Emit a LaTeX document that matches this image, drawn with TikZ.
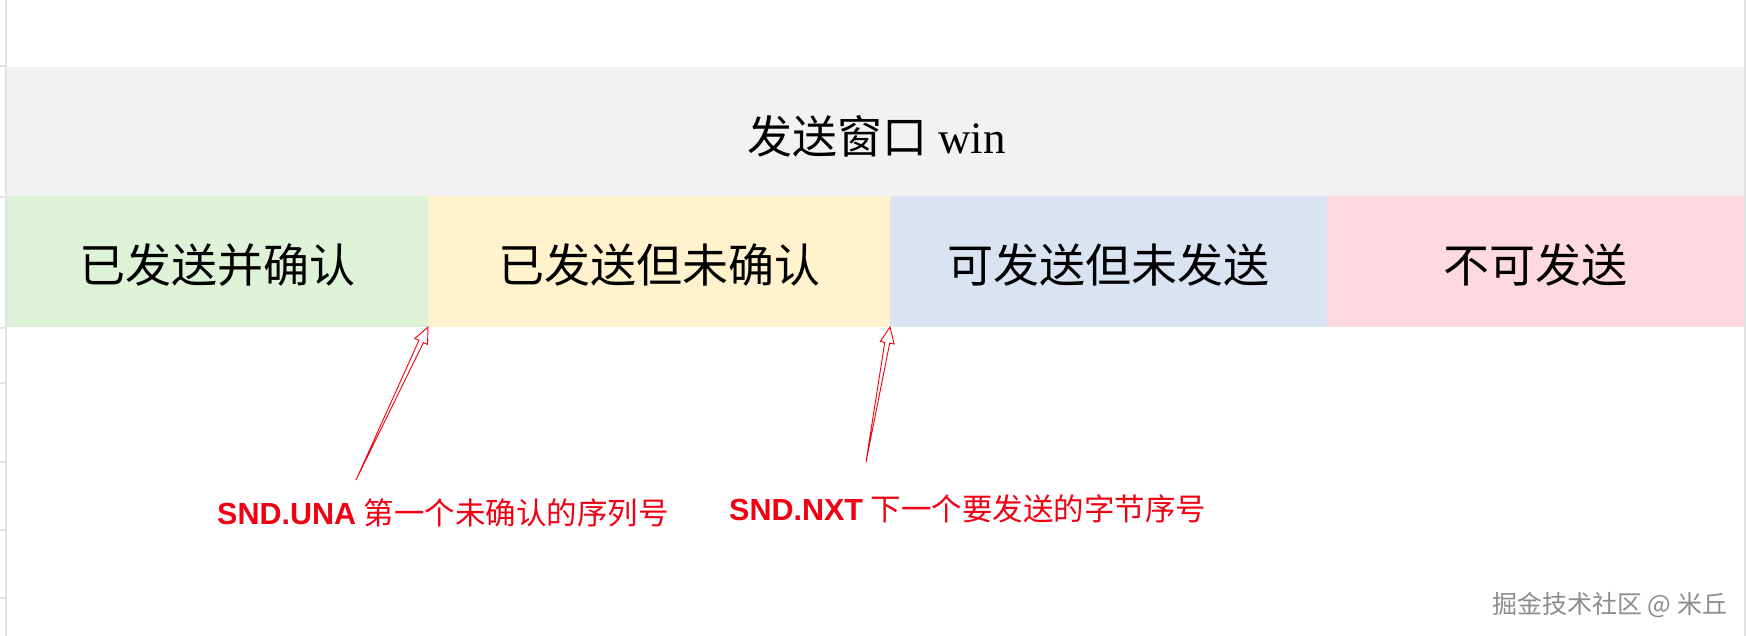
\documentclass[tikz,border=0pt]{standalone}
\usepackage{fontspec}
\setmainfont{Liberation Serif}
\newfontfamily\cjk{Noto Sans CJK SC}
\newfontfamily\lblfont{Liberation Sans}
\usepackage{tikz}
\usetikzlibrary{calc}
\definecolor{bandgray}{RGB}{242,242,242}
\definecolor{ackgreen}{RGB}{222,242,216}
\definecolor{unackyellow}{RGB}{255,242,204}
\definecolor{readyblue}{RGB}{218,227,242}
\definecolor{blockpink}{RGB}{255,217,224}
\definecolor{gridgray}{RGB}{226,226,226}
\definecolor{notered}{RGB}{240,0,18}

\begin{document}
\begin{tikzpicture}[x=1pt,y=-1pt,
cell/.style={inner sep=0pt,outer sep=0pt,minimum height=131pt,align=center,text height=46pt,text depth=4pt,font=\cjk\fontsize{46}{50}\selectfont},
band/.style={fill=bandgray,inner sep=0pt,outer sep=0pt,minimum width=1739pt,minimum height=129pt,text height=50pt,text depth=5pt,font=\fontsize{45}{50}\selectfont},
hollow arrow/.style={draw=notered,fill=white,line width=0.9pt,line join=miter},
note/.style={anchor=west,inner sep=0pt,text=notered,font=\fontsize{30.5}{34}\selectfont},
grid line/.style={draw=gridgray,line width=1.2pt}]
\useasboundingbox (0,0) rectangle (1746,636);
\node[band] (win) at (876.5,131.5) {{\cjk 发送窗口} win};
\node[cell,fill=ackgreen,minimum width=421pt] (acked) at (217.5,261.5) {已发送并确认};
\node[cell,fill=unackyellow,minimum width=462pt] (unacked) at (659,261.5) {已发送但未确认};
\node[cell,fill=readyblue,minimum width=437pt] (ready) at (1108.5,261.5) {可发送但未发送};
\node[cell,fill=blockpink,minimum width=417pt] (blocked) at (1535.5,261.5) {不可发送};
% sheet grid at the edges
\draw[grid line] (6,0) -- (6,636);
\draw[grid line] (1745,0) -- (1745,636);
\foreach \gy in {66,197,328,383,462,530,598}
  \draw[grid line] (0,\gy) -- (6,\gy);
% labels
\node[note] (una) at (217,513) {{\lblfont\bfseries SND.UNA} {\cjk 第一个未确认的序列号}};
\node[note] (nxt) at (729,509) {{\lblfont\bfseries SND.NXT} {\cjk 下一个要发送的字节序号}};
\coordinate (una tail) at (356,480);
\coordinate (nxt tail) at (866,462);
\coordinate (una base) at ($(acked.south east)!16pt!(una tail)$);
\coordinate (nxt base) at ($(unacked.south east)!16pt!(nxt tail)$);
\draw[hollow arrow] (una tail) -- ($(una base)!2.5pt!90:(acked.south east)$) -- ($(una base)!7pt!90:(acked.south east)$) -- (acked.south east) -- ($(una base)!7pt!-90:(acked.south east)$) -- ($(una base)!2.5pt!-90:(acked.south east)$) -- cycle;
\draw[hollow arrow] (nxt tail) -- ($(nxt base)!2.5pt!90:(unacked.south east)$) -- ($(nxt base)!7pt!90:(unacked.south east)$) -- (unacked.south east) -- ($(nxt base)!7pt!-90:(unacked.south east)$) -- ($(nxt base)!2.5pt!-90:(unacked.south east)$) -- cycle;
\node[anchor=west,inner sep=0pt,text=gray!90,font=\cjk\fontsize{25}{30}\selectfont] (mark) at (1492,605) {掘金技术社区 @ 米丘};
\end{tikzpicture}
\end{document}
